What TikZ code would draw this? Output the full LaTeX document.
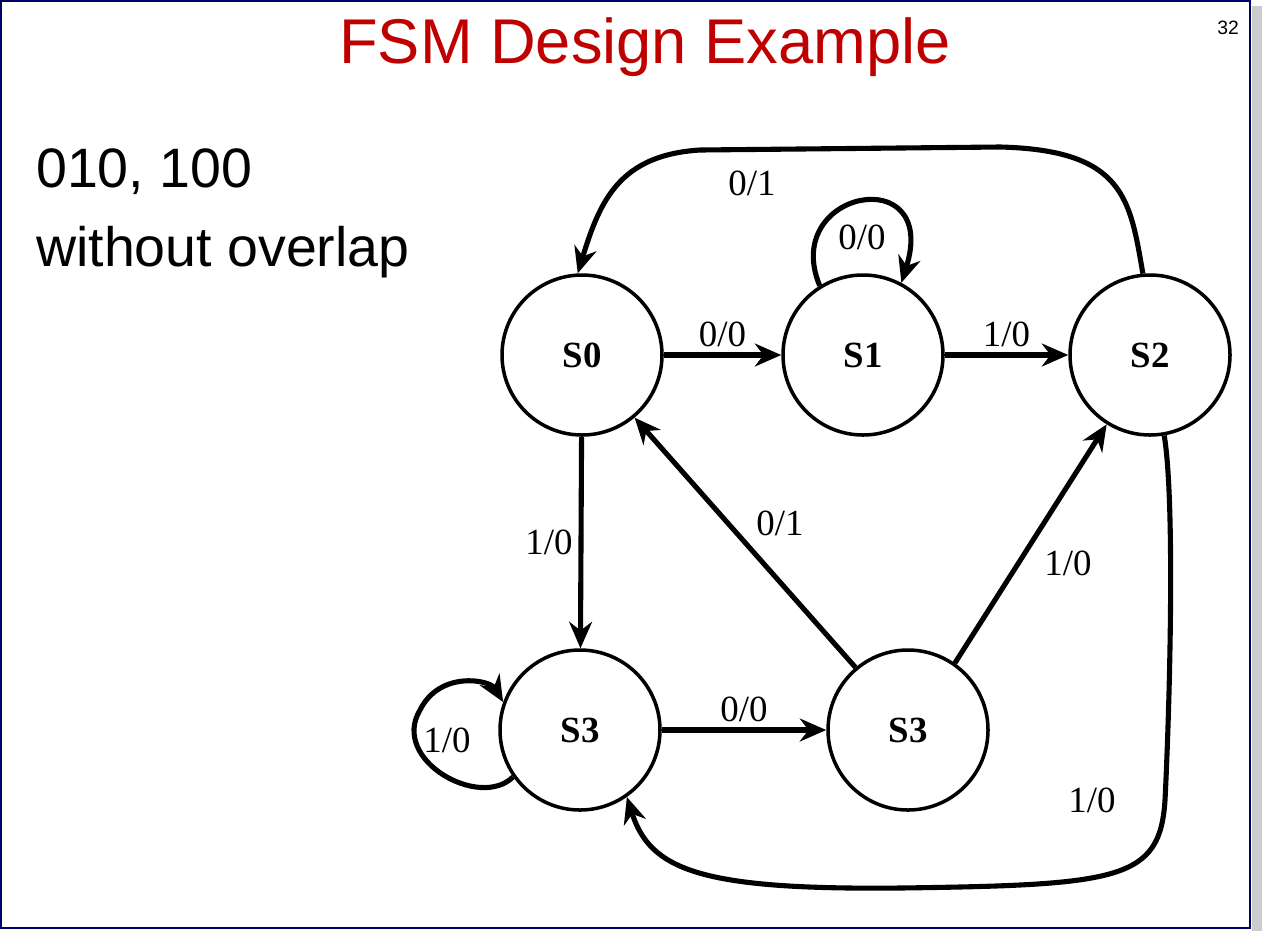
\documentclass[tikz,border=0pt]{standalone}
\usepackage{fontspec}
\setmainfont{Liberation Serif}
\newfontfamily\sans{Liberation Sans}
\usetikzlibrary{arrows.meta}
\begin{document}
\begin{tikzpicture}[x=0.02cm,y=-0.02cm,
  st/.style={circle,draw,line width=2pt,minimum size=160*0.02cm,inner sep=0pt,font=\fontsize{21}{24}\selectfont\bfseries},
  ed/.style={line width=2.9pt,-{Stealth[length=15pt,width=13pt]}},
  lb/.style={font=\fontsize{21}{24}\selectfont}]
\useasboundingbox (0,0) rectangle (1280,931);
\fill[gray!40] (1252,6) rectangle (1262,931);
\draw[line width=1pt,blue!40!black] (1,1) rectangle (1250,928);
\node[text=red!75!black,font=\sans\fontsize{36}{40}\selectfont] (t) at (645,47) {FSM Design Example};
\node[font=\sans\fontsize{11}{12}\selectfont] (pg) at (1228,28) {32};
\node[anchor=west,font=\sans\fontsize{31.6}{36}\selectfont] (l1) at (30,172) {010, 100};
\node[anchor=west,font=\sans\fontsize{31.6}{36}\selectfont] (l2) at (30,252) {without overlap};
\node[st] (s0) at (582,355) {S0};
\node[st] (s1) at (863,355) {S1};
\node[st] (s2) at (1150,355) {S2};
\node[st] (s3) at (580,730) {S3};
\node[st] (s4) at (908,730) {S3};
\draw[ed] (s0) -- node[lb,above]{0/0} (s1);
\draw[ed] (s1) -- node[lb,above]{1/0} (s2);
\draw[ed] (s0) -- node[lb,left]{1/0} (s3);
\draw[ed] (s3) -- node[lb,above]{0/0} (s4);
\draw[ed] (s4.130) -- (s0.-50);
\node[lb] (a) at (780,523) {0/1};
\draw[ed] (s4.55) -- (s2.-122);
\node[lb] (b) at (1068,563) {1/0};
\draw[ed] (s1.122) .. controls (780,190) and (940,160) .. (s1.62);
\node[lb] (c) at (862,237) {0/0};
\draw[ed] (s3.-145) .. controls (480,810) and (390,760) .. (420,710) .. controls (440,670) and (490,680) .. (s3.160);
\node[lb] (d) at (447,740) {1/0};
\draw[ed] (s2.95) .. controls (1130,200) and (1125,150) .. (1000,147) -- (700,150) .. controls (620,155) and (600,200) .. (s0.93);
\node[lb] (e) at (752,183) {0/1};
\draw[ed] (s2.-80) .. controls (1175,500) and (1170,700) .. (1165,800) .. controls (1160,880) and (1120,885) .. (900,888) .. controls (700,890) and (650,870) .. (s3.-55);
\node[lb] (f) at (1092,800) {1/0};
\end{tikzpicture}
\end{document}
